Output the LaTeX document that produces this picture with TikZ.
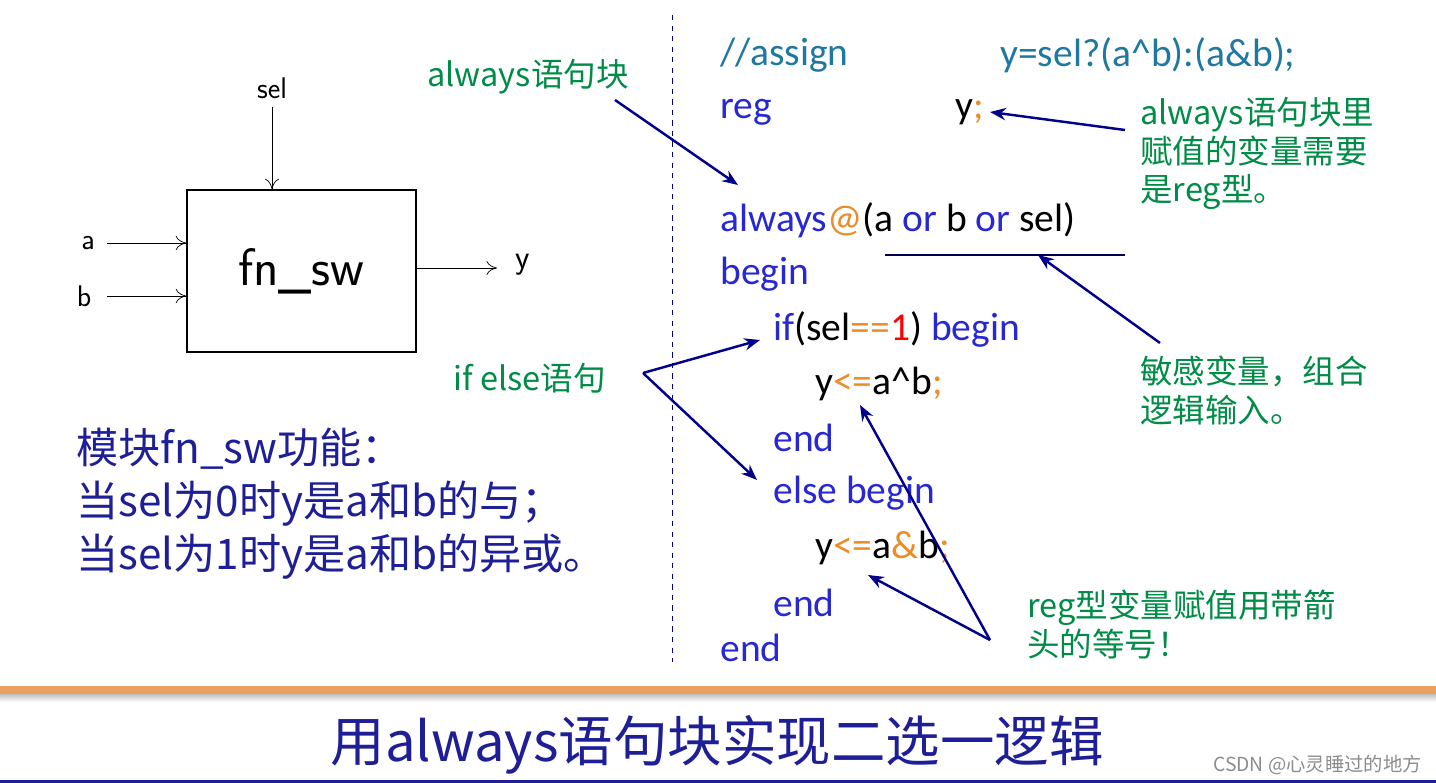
\documentclass[tikz,border=0pt]{standalone}
\usepackage{fontspec}
\usetikzlibrary{arrows.meta,positioning}
\setmainfont{Carlito}
\newfontfamily\cjk{Noto Sans CJK SC}
\definecolor{codeblue}{RGB}{40,40,210}
\definecolor{codeteal}{RGB}{30,120,160}
\definecolor{notegreen}{RGB}{0,140,70}
\definecolor{codeorange}{RGB}{235,140,40}
\definecolor{titleblue}{RGB}{30,30,150}
\definecolor{barorange}{RGB}{236,160,95}
\tikzset{
  code/.style={anchor=west, inner sep=0pt, font=\fontsize{22.5}{24}\selectfont, text=codeblue},
  note/.style={anchor=west, inner sep=0pt, align=left, font=\cjk\fontsize{18.5}{30}\selectfont, text=notegreen},
  pin/.style={-{Stealth[length=9pt,width=7pt]}, line width=1.4pt, draw=blue!55!black},
  wire/.style={-{To[length=6pt,width=8pt]}, thin},
}
\newcommand{\hl}[1]{\textcolor{codeorange}{#1}}
\begin{document}
\begin{tikzpicture}[x=0.02cm,y=-0.02cm]
\useasboundingbox (0,0) rectangle (1436,783);
% module block
\node[draw, thick, minimum width=4.58cm, minimum height=3.24cm, inner sep=0pt,
      font=\sffamily\fontsize{30}{30}\selectfont] (blk) at (301.5,271) {fn\_sw};
\node[font=\sffamily\fontsize{17}{18}\selectfont] (sel) at (272,88) {sel};
\node[font=\sffamily\fontsize{17}{18}\selectfont] (ina) at (88,243) {a};
\node[font=\sffamily\fontsize{17}{18}\selectfont] (inb) at (84,296) {b};
\node[font=\sffamily\fontsize{19}{18}\selectfont] (outy) at (523,265) {y};
\draw[wire] (sel.south) ++(0,2) -- (sel.south |- blk.north);
\draw[wire] (107,243) -- (blk.west |- 0,243);
\draw[wire] (107,296) -- (blk.west |- 0,296);
\draw[wire] (blk.east |- 0,268) -- (497,268);
% function text
\node[anchor=north west, inner sep=0pt, align=left, text=titleblue,
      font=\cjk\fontsize{24}{30}\selectfont] (func) at (76,428)
  {模块fn\_sw功能：\\当sel为0时y是a和b的与；\\当sel为1时y是a和b的异或。};
% divider
\draw[dashed, blue!50!black] (672,15) -- (672,662);
% code lines
\node[code, text=codeteal] (c0) at (720,55) {//assign};
\node[code, text=codeteal] (c0b) at (1000,55) {y=sel?(a\textasciicircum b):(a\&b);};
\node[code] (c1) at (720,112) {reg};
\node[code, text=black] (c1y) at (955,112) {y\hl{;}};
\node[code] (c2) at (720,220) {always\hl{@}\textcolor{black}{(a}~or~\textcolor{black}{b}~or~\textcolor{black}{sel)}};
\node[code] (c3) at (720,274) {begin};
\node[code] (c4) at (773,329) {if\textcolor{black}{(sel}\hl{==}\textcolor{red}{1}\textcolor{black}{)}~begin};
\node[code, text=black] (c5) at (815,384) {y\hl{<=}a\textasciicircum b\hl{;}};
\node[code] (c6) at (773,438) {end};
\node[code] (c7) at (773,493) {else begin};
\node[code, text=black] (c8) at (815,548) {y\hl{<=}a\hl{\&}b\hl{;}};
\node[code] (c9) at (773,603) {end};
\node[code] (c10) at (720,648) {end};
\draw[thick, blue!30!black] (885,255) -- (1125,255);
% notes
\node[note] (n1) at (427,77) {always语句块};
\node[note, anchor=north west] (n2) at (1140,97) {always语句块里\\[-8pt]赋值的变量需要\\[-8pt]是reg型。};
\node[note, anchor=north west] (n3) at (1140,356) {敏感变量，组合\\[-8pt]逻辑输入。};
\node[note] (n4) at (453,378) {if else语句};
\node[note, anchor=north west] (n5) at (1027,590) {reg型变量赋值用带箭\\[-8pt]头的等号！};
% pointers
\coordinate (p1) at (738,185);
\coordinate (p2) at (990,112);
\coordinate (p3) at (1038,255);
\coordinate (p4) at (643,373);
\coordinate (p5) at (990,640);
\draw[pin] (615,100) -- (p1);
\draw[pin] (1125,130) -- (p2);
\draw[pin] (1160,343) -- (p3);
\draw[pin] (p4) -- (760,340);
\draw[pin] (p4) -- (757,480);
\draw[pin] (p5) -- (860,405);
\draw[pin] (p5) -- (868,575);
% footer
\fill[barorange] (0,686) rectangle (1436,694);
\shade[top color=black!25, bottom color=white] (0,694) rectangle (1436,702);
\node[text=titleblue, font=\cjk\fontsize{31}{32}\selectfont] (title) at (717,745) {用always语句块实现二选一逻辑};
\node[anchor=east, text=black!45, font=\cjk\fontsize{11}{12}\selectfont] (mark) at (1428,765) {CSDN @心灵睡过的地方};
\fill[titleblue] (0,780) rectangle (1436,783);
\end{tikzpicture}
\end{document}
